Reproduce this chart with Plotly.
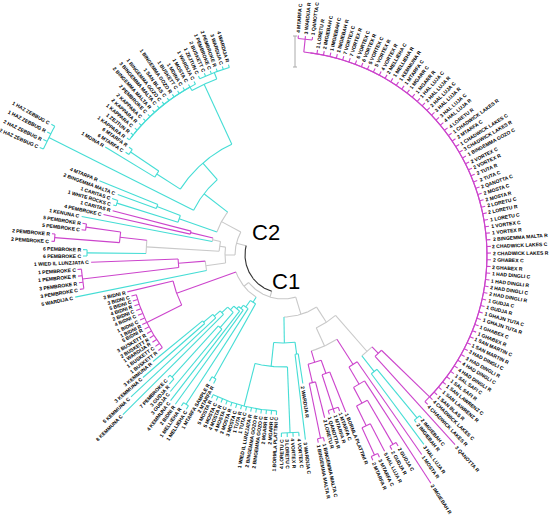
import math
import plotly.graph_objects as go

# ---- leaf names (clockwise from 12 o'clock) and clade pieces, newick-like:
#      "(a:r, b:r)#tag:r" -> node depth r (distance from centre), tag m/c = colour
#      "[ ... ]:r" -> ladder (caterpillar) with all inner nodes at depth r
TOP_TRIO = "(4 MTARFA C:220, 3 WARDIJA R:220, 1 QANOTTA C:220):217"

ARC_NAMES = [
    "1 LORETU R", "2 IMGIEBAH C", "1 IMGIEBAH C", "1 IMGIEBAH R",
    "7 VORTEX C", "7 VORTEX R", "6 VORTEX C", "6 VORTEX R",
    "5 VORTEX C", "5 VORTEX R", "4 VORTEX R", "2 MELLIEHA C",
    "1 MELLIEHA R", "1 KEMMUNA R", "1 MTARFA C", "1 MGARR C",
    "1 MGARR R", "1 HAL LUJA C", "2 HAL LUJA R", "2 HAL LUJA C",
    "3 HAL LUJA R", "3 HAL LUJA C", "4 HAL LUJA R", "4 LORETU R",
    "1 CHADWICK LAKES R", "2 MTARFA C", "1 CHADWICK LAKES C", "3 CHADWICK LAKES R",
    "1 BINGEMMA GOZO C", "2 VORTEX C", "2 VORTEX R", "2 TUTA R",
    "2 TUTA C", "2 QANOTTA C", "2 MOSTA C", "2 MOSTA R",
    "2 LORETU C", "2 LORETU R", "1 LORETU C", "1 VORTEX C",
    "1 VORTEX R", "2 BINGEMMA MALTA R", "2 CHADWICK LAKES C", "2 CHADWICK LAKES R",
    "2 GHABEX C", "2 GHABEX R", "1 HAD DINGLI C", "1 HAD DINGLI R",
    "2 HAD DINGLI C", "2 HAD DINGLI R", "1 GUDJA C", "1 GUDJA R",
    "1 GHAJN TUTA C", "1 GHAJN TUTA R", "1 GHABEX C", "1 GHABEX R",
    "1 SAN MARTIN C", "1 SAN MARTIN R", "3 HAD DINGLI C", "3 HAD DINGLI R",
    "4 HAD DINGLI C", "4 HAD DINGLI R", "1 SAL SAFI C", "1 SAL SAFI R",
    "1 SAN LAWRENZ C", "1 SAN LAWRENZ R", "1 SAN BLAS R", "4 CHADWICK LAKES C",
    "4 CHADWICK LAKES R",
]
ARC_TIP, ARC_NODE = 208, 204

BOTTOM_ARC_NAMES = [
    "1 BORMLA PLATTINI C", "2 MGARR C", "2 MGARR R", "2 BINGEMMA GOZO C",
    "2 BINGEMMA GOZO R", "1 WIED IL LUNZJATA R", "1 TUTA C", "1 TUTA R",
    "3 MOSTA C", "3 MOSTA R", "4 MOSTA C", "4 MOSTA R", "5 MOSTA C", "5 MOSTA R",
]
BOTTOM_TIP, BOTTOM_NODE = 160, 156

BIDNI_NAMES = [
    "1 BUSKETT R", "1 BUSKETT C", "1 WARDIJA R", "2 BUSKETT R", "3 BUSKETT R",
    "5 BIDNI R", "1 BIDNI R", "1 BIDNI C", "4 BIDNI C", "2 BIDNI C",
    "4 BIDNI R", "5 BIDNI C", "3 BIDNI C",
]
BIDNI_TIP, BIDNI_NODE = 157, 152

TL_LADDER_NAMES = [
    "1 KAPPARA R", "1 ZEJTUN R", "1 KAPPARA C", "2 KAPPARA R", "2 KAPPARA C",
    "2 PEMBROKE C", "2 BINGEMMA MALTA R", "3 BINGEMMA MALTA C", "1 BINGEMMA GOZO C",
    "1 SAN BLAS C", "1 BINGEMMA GOZO R", "1 BUSKETT C", "1 MDINA C", "1 MOSTA C",
    "1 WARDIJA C",
]
TL_TAIL_NAMES = ["1 ZEJTUN C", "2 BUSKETT C", "1 PEMBROKE C", "2 PEMBROKE R",
                 "3 WARDIJA C", "4 WARDIJA R"]
TL_TIP, TL_NODE = 196, 192

MB1 = ("(1 MOSTA R:243, (2 IMGIEBAH R:272, ((2 GUDJA C:223, 2 GUDJA R:223):219,"
       " (5 HAL LUJA R:221, (3 MTARFA C:224, 2 MTARFA R:224):220):190):168):150)#m:130")
MB2 = ("((1 BORMLA PLATTINI R:169, (1 MTARFA C:166, 1 MTARFA R:166, 1 QANOTTA R:166):162):126,"
       " (2 LORETU R:168, (1 BINGEMMA MALTA C:191, 1 BINGEMMA MALTA R:191):187):131)#m:112")
CYB = "((2 IMGIEBAH C:214, 2 IMGIEBAH R:214):211, 3 HAL LUJA R:236)#c:148"
WARD = "(2 WARDIJA R:130, 3 WARDIJA C:186):100"
FOUR = "(4 VORTEX C:182, 4 VORTEX R:182, 3 LORETU C:182, 4 LORETU C:182):178"
F1 = ("((2 MTARFA R:146, 1 MTARFA SAMPLE R:146):141,"
      " ((1 MELLIEHA C:182, 1 MELLIEHA R:182):178,"
      " (2 BIDNI R:184, (4 KEMMUNA C:184,"
      " ((3 GUDJA C:177, (3 GUDJA R:172, 7 PEMBROKE C:168):165):96,"
      " (8 KEMMUNA C:226, (5 KEMMUNA C:208, (3 KEMMUNA C:186, 3 KEMMUNA R:168):104):92):84"
      "):76):71):68):64)#c:56")
G1 = ("(5 WARDIJA C#c:212, ((3 PEMBROKE C:206, 3 PEMBROKE R:206, 1 PEMBROKE R:206,"
      " 1 PEMBROKE C:206):202, 1 WIED IL LUNZJATA C:192)#m:105):78")
G2 = ("(((6 PEMBROKE C:200, 6 PEMBROKE R:200)#c:196, ((2 PEMBROKE C:232, 2 PEMBROKE R:232):229,"
      " (5 PEMBROKE C:203, 5 PEMBROKE R:203):199)#m:164):137,"
      " (1 KENUNA C#c:205, (4 PEMBROKE C:184, 1 CARITAS R:176)#m:95):72):64")
CW = ("((1 WHITE ROCKS C:177, 1 CARITAS C:180):174,"
      " (2 BINGEMMA MALTA C:176, 4 MTARFA R:198):135)#c:110")
HAZ = "(2 HAZ ZEBBUG C:266, 2 HAZ ZEBBUG R:266, 1 HAZ ZEBBUG R:266, 1 HAZ ZEBBUG C:266):262"
MDINA = "(1 MDINA R:208, (6 MTARFA C:188, 6 MTARFA R:188):184):150"


def leaves_str(names, tip):
    return ", ".join(f"{n}:{tip}" for n in names)


right_arc = f"[{TOP_TRIO}, {leaves_str(ARC_NAMES, ARC_TIP)}]:{ARC_NODE}"
bottom_arc = f"({leaves_str(BOTTOM_ARC_NAMES, BOTTOM_TIP)}):{BOTTOM_NODE}"
bidni = f"(({leaves_str(BIDNI_NAMES, BIDNI_TIP)}):{BIDNI_NODE}, 3 BIDNI R:160)#m:113"
top_left = (f"([{leaves_str(TL_LADDER_NAMES, TL_TIP - 1)}]:{TL_NODE},"
            f" ({leaves_str(TL_TAIL_NAMES, TL_TIP + 2)}):{TL_NODE + 3}):188")

Q2a = f"(({right_arc}, 3 QANOTTA R:256)#m:137, {CYB}):128"
Q2 = f"({Q2a}, ({MB1}, {MB2}):100):80"
Q1 = f"({WARD}, ({FOUR}, {bottom_arc}):112)#c:88"
C1 = f"(({Q2}, {Q1}):62, ({F1}, {bidni}):50):44"
C2 = f"(({G1}, {G2}):58, ({CW}, ({HAZ}, ({MDINA}, {top_left}):122)#c:100):70):48"
TREE = f"({C1}, {C2}):38"

START, STEP = 86.0, 1.858      # leaf angles (degrees)
COLORS = {"g": "#c9c9c9", "m": "#cc44cc", "c": "#45ddd5", "k": "#333333"}


def parse(text):
    s = " ".join(text.split())
    pos = 0

    def read_label():
        nonlocal pos
        j = pos
        while j < len(s) and s[j] not in ",)]":
            j += 1
        lab = s[pos:j].strip()
        pos = j
        head, depth = lab.rsplit(":", 1)
        name, _, tag = head.partition("#")
        return name.strip(), tag.strip(), float(depth)

    def node():
        nonlocal pos
        while s[pos] == " ":
            pos += 1
        if s[pos] in "([":
            ladder = s[pos] == "["
            pos += 1
            kids = [node()]
            while True:
                while s[pos] == " ":
                    pos += 1
                if s[pos] == ",":
                    pos += 1
                    kids.append(node())
                else:
                    break
            pos += 1
            name, tag, depth = read_label()
            if ladder and len(kids) > 2:
                cur = kids[0]
                for k in kids[1:-1]:
                    cur = {"name": "", "tag": "", "depth": depth, "kids": [cur, k]}
                kids = [cur, kids[-1]]
            return {"name": name, "tag": tag, "depth": depth, "kids": kids}
        name, tag, depth = read_label()
        return {"name": name, "tag": tag, "depth": depth, "kids": []}

    return node()


tree = parse(TREE)
leaves = []


def layout(nd, col):
    nd["color"] = nd["tag"] or col
    if not nd["kids"]:
        nd["angle"] = START - len(leaves) * STEP
        leaves.append(nd)
        return
    for k in nd["kids"]:
        layout(k, nd["color"])
    nd["angle"] = (nd["kids"][0]["angle"] + nd["kids"][-1]["angle"]) / 2


layout(tree, "g")


def polar(r, a):
    return r * math.cos(math.radians(a)), r * math.sin(math.radians(a))


segs = {k: ([], []) for k in COLORS}


def add(col, pts):
    xs, ys = segs[col]
    for x, y in pts:
        xs.append(x)
        ys.append(y)
    xs.append(None)
    ys.append(None)


def draw(nd, parent_depth):
    if parent_depth is not None:
        add(nd["color"], [polar(parent_depth, nd["angle"]), polar(nd["depth"], nd["angle"])])
    if nd["kids"]:
        a0, a1 = nd["kids"][0]["angle"], nd["kids"][-1]["angle"]
        n = max(2, int(abs(a1 - a0) / 0.5) + 2)
        col = "k" if parent_depth is None else nd["color"]
        add(col, [polar(nd["depth"], a0 + (a1 - a0) * i / (n - 1)) for i in range(n)])
        for k in nd["kids"]:
            draw(k, nd["depth"])


draw(tree, None)

fig = go.Figure()
for col in ["g", "c", "m", "k"]:
    xs, ys = segs[col]
    fig.add_trace(go.Scatter(x=xs, y=ys, mode="lines", hoverinfo="skip",
                             line=dict(color=COLORS[col], width=1.1)))

# approximate bold-Arial advance widths, to centre each rotated label
W = dict(zip("ABCDEFGHIJKLMNOPQRSTUVWXYZ",
             [722, 722, 722, 722, 667, 611, 778, 722, 278, 556, 722, 611, 833,
              722, 778, 667, 778, 722, 667, 611, 722, 667, 944, 667, 667, 611]))
FS = 5.0
annotations = []
for lf in leaves:
    w = sum(W.get(ch, 556 if ch.isdigit() else 278) for ch in lf["name"]) * FS / 1000
    a = lf["angle"]
    an = (a + 180) % 360 - 180
    ta = -an if -90 <= an <= 90 else 180 - an
    ta = (ta + 180) % 360 - 180
    x, y = polar(lf["depth"] + 2 + w / 2, a)
    annotations.append(dict(x=x, y=y, text=lf["name"], showarrow=False, textangle=ta,
                            xanchor="center", yanchor="middle",
                            font=dict(family="Liberation Sans", size=FS, color="black",
                                      weight="bold")))

annotations.append(dict(x=-17, y=22.5, text="C2", showarrow=False,
                        font=dict(family="Liberation Sans", size=22, color="black")))
annotations.append(dict(x=3, y=-26, text="C1", showarrow=False,
                        font=dict(family="Liberation Sans", size=22, color="black")))

# scale bar near the top
shapes = [
    dict(type="line", x0=12, x1=12, y0=188, y1=219, line=dict(color="#aaaaaa", width=1)),
    dict(type="line", x0=10, x1=14, y0=219, y1=219, line=dict(color="#aaaaaa", width=1)),
    dict(type="line", x0=10, x1=14, y0=188, y1=188, line=dict(color="#aaaaaa", width=1)),
]

fig.update_layout(
    width=550, height=517,
    margin=dict(l=0, r=0, t=0, b=0),
    paper_bgcolor="white", plot_bgcolor="white",
    showlegend=False,
    annotations=annotations,
    shapes=shapes,
    xaxis=dict(range=[-283, 267], visible=False, fixedrange=True),
    yaxis=dict(range=[-262, 255], visible=False, fixedrange=True),
)
fig.write_html("out.html", config={"displayModeBar": False},
               post_script="document.body.style.margin='0px';")
